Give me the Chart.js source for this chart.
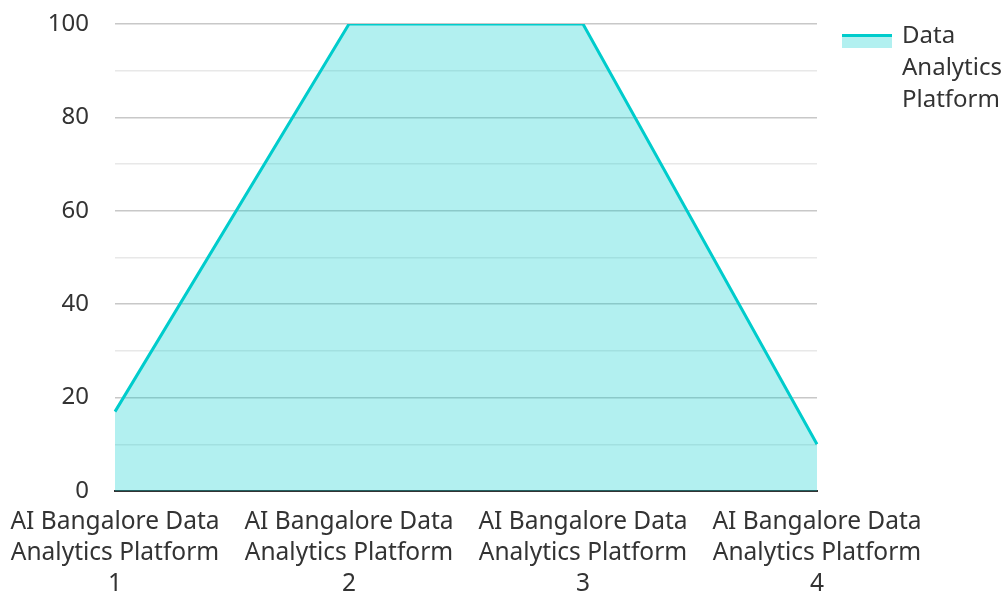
<!DOCTYPE html>
<html>
<head>
<meta charset="utf-8">
<script src="https://cdn.jsdelivr.net/npm/chart.js@4/dist/chart.umd.min.js"></script>
<style>
    html, body { margin: 0; padding: 0; background: #fff; }
    #wrap { width: 1007px; height: 595px; position: relative; }
</style>
</head>
<body>
<div id="wrap"><canvas id="chart"></canvas></div>
<script>
const categories = [
    ['AI Bangalore Data', 'Analytics Platform', '1'],
    ['AI Bangalore Data', 'Analytics Platform', '2'],
    ['AI Bangalore Data', 'Analytics Platform', '3'],
    ['AI Bangalore Data', 'Analytics Platform', '4']
];
const seriesName = 'Data Analytics Platform';
const legendLines = ['Data', 'Analytics', 'Platform'];
const seriesValues = [17, 100, 100, 10];
const yTicks = [0, 20, 40, 60, 80, 100];

const lineColor = '#00cccc';
const fillColor = 'rgba(0, 204, 204, 0.3)';
const textColor = '#333333';
const fontFamily = "'Noto Sans', 'Open Sans', sans-serif";

// legend drawn by hand so the label can wrap over three lines
const sideLegend = {
    id: 'sideLegend',
    afterDraw(chart) {
        const ctx = chart.ctx;
        const ds = chart.data.datasets[0];
        const x = 842, y = 34;
        ctx.save();
        ctx.fillStyle = ds.backgroundColor;
        ctx.fillRect(x, y, 50, 14);
        ctx.strokeStyle = ds.borderColor;
        ctx.lineWidth = 3;
        ctx.beginPath();
        ctx.moveTo(x, y + 1.5);
        ctx.lineTo(x + 50, y + 1.5);
        ctx.stroke();
        ctx.fillStyle = textColor;
        ctx.font = '24px ' + fontFamily;
        ctx.textBaseline = 'middle';
        legendLines.forEach((t, i) => ctx.fillText(t, 902, 36 + i * 32));
        ctx.restore();
    }
};

const ctx = document.getElementById('chart').getContext('2d');
new Chart(ctx, {
    type: 'line',
    data: {
        labels: categories,
        datasets: [{
            label: seriesName,
            data: seriesValues,
            borderColor: lineColor,
            backgroundColor: fillColor,
            borderWidth: 3,
            fill: 'origin',
            tension: 0,
            pointRadius: 0,
            pointHoverRadius: 0
        }]
    },
    options: {
        responsive: true,
        maintainAspectRatio: false,
        animation: false,
        layout: { padding: { top: 24, right: 190, left: 0, bottom: 0 } },
        plugins: {
            legend: { display: false },
            tooltip: { enabled: false }
        },
        scales: {
            x: {
                offset: false,
                z: 1,
                grid: { display: false, drawTicks: false },
                border: { display: true, color: '#333333', width: 2 },
                afterFit: axis => {
                    axis.height = 104;
                    axis.paddingLeft = 0;
                    axis.paddingRight = 0;
                },
                ticks: {
                    color: textColor,
                    maxRotation: 0,
                    autoSkip: false,
                    padding: 15,
                    font: { family: fontFamily, size: 24.5, lineHeight: 1.27 }
                }
            },
            y: {
                min: 0,
                max: 100,
                afterBuildTicks: axis => {
                    const t = [];
                    for (let v = 0; v <= 100; v += 10) t.push({ value: v });
                    axis.ticks = t;
                },
                afterFit: axis => {
                    axis.width = 115;
                    axis.paddingTop = 0;
                    axis.paddingBottom = 0;
                },
                border: { display: false },
                grid: {
                    drawTicks: false,
                    lineWidth: 1.5,
                    color: c => yTicks.includes(c.tick.value) ? '#c8c8c8' : '#e8e8e8'
                },
                ticks: {
                    color: textColor,
                    padding: 26,
                    font: { family: fontFamily, size: 24 },
                    callback: v => yTicks.includes(v) ? String(v) : ''
                }
            }
        }
    },
    plugins: [sideLegend]
});
</script>
</body>
</html>
